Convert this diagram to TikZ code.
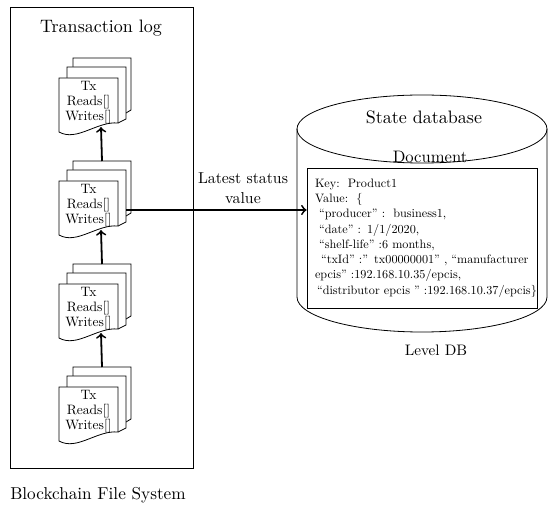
\documentclass[tikz,border=0pt]{standalone}
\usepackage{fontspec}
\setmainfont{lmroman10-regular.otf}
\usetikzlibrary{positioning,calc}
\begin{document}
\begin{tikzpicture}[x=0.5pt,y=-0.5pt,
title/.style={font=\fontsize{9}{11}\selectfont},
conn/.style={->,>=to,line width=0.9pt},
txstack/.pic={
  \filldraw[fill=white] (14,-11) -- (14,-20) -- (72,-20) -- (72,32) -- (67,35);
  \filldraw[fill=white] (8,0) -- (8,-11) -- (67,-11) -- (67,41) -- (59,45);
  \filldraw[fill=white] (0,0) -- (59,0) -- (59,45)
    .. controls (38,43) and (18,64) .. (0,54) -- cycle;
  \node[align=center,font=\fontsize{6.8}{7.5}\selectfont] (-doc) at (29.5,25)
    {Tx\\Reads[]\\Writes[]};
  \coordinate (-top) at (43,-20);
  \coordinate (-bot) at (42,49);
  \coordinate (-right) at (67,29);}
]
\useasboundingbox (0,0) rectangle (550,507);

% blockchain file system
\draw (10,7) rectangle (193,468);
\node[title] (logtitle) at (101,28) {Transaction log};
\node[title,font=\fontsize{8.6}{10}\selectfont] (fstitle) at (98,495) {Blockchain File System};

\path
  (59,78) pic (s1) {txstack}
  (59,181) pic (s2) {txstack}
  (59,284) pic (s3) {txstack}
  (59,387) pic (s4) {txstack};

\draw[conn] (s2-top) -- (s1-bot);
\draw[conn] (s3-top) -- (s2-bot);
\draw[conn] (s4-top) -- (s3-bot);

% state database
\draw (297,129) -- (297,297) arc[start angle=180,end angle=0,x radius=125,y radius=35] -- (547,129);
\draw (422,129) ellipse [x radius=125,y radius=34];
\node[title] (dbtitle) at (424,117) {State database};
\node[title,font=\fontsize{8.3}{10}\selectfont] (doctitle) at (430,157) {Document};
\node[title,font=\fontsize{7.6}{9}\selectfont] (leveldb) at (436,350) {Level DB};

\node[draw,fill=white,minimum width=115pt,minimum height=70pt,text width=107pt,inner xsep=0pt,
  align=left,font=\fontsize{6.1}{7.65}\selectfont] (doc) at (422,238)
  {Key:\ \ Product1\\
   Value:\ \ \{\\
   \hspace*{2pt}“producer” :\ \ business1,\\
   \hspace*{2pt}“date” : 1/1/2020,\\
   \hspace*{2pt}“shelf-life” :6 months,\\
   \mbox{\hspace*{3pt}“txId” :” tx00000001” , “manufacturer}\\
   epcis” :192.168.10.35/epcis,\\
   \mbox{\hspace*{1pt}“distributor epcis ” :192.168.10.37/epcis\}}};

\draw[conn] (s2-right) -- (s2-right -| doc.west);
\node[align=center,font=\fontsize{7.9}{10}\selectfont] (status) at (243,188) {Latest status\\value};

\end{tikzpicture}
\end{document}
